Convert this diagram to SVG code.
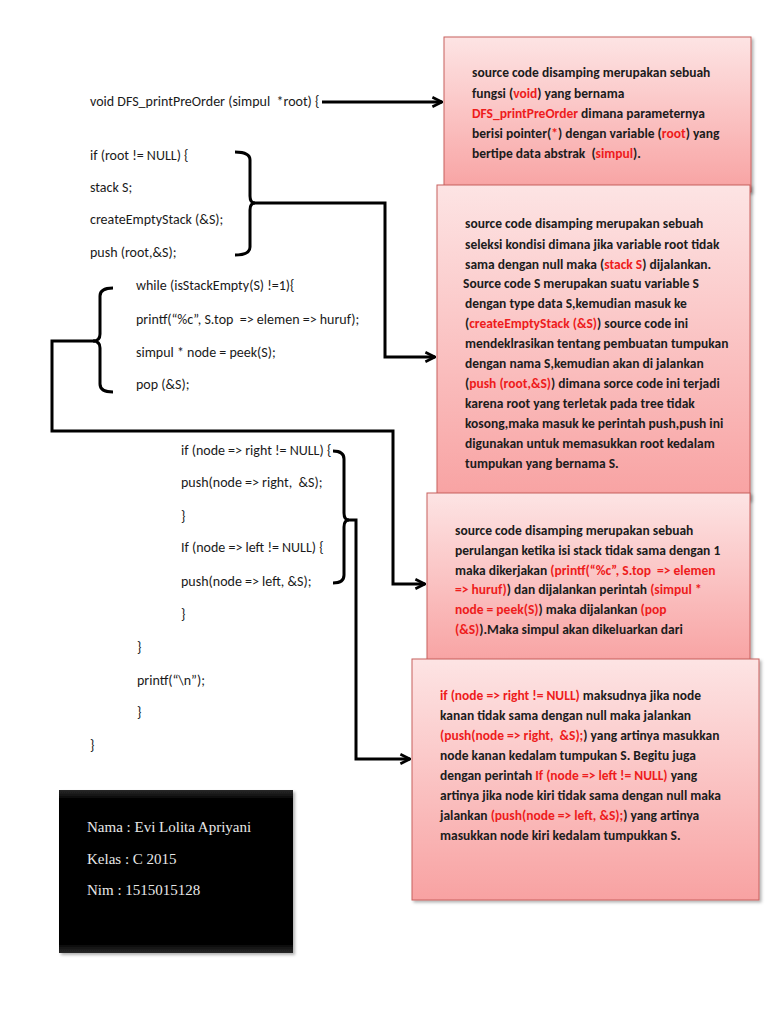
<svg xmlns="http://www.w3.org/2000/svg" width="768" height="1024" viewBox="0 0 768 1024">
<defs>
<linearGradient id="pink" x1="0" y1="0" x2="0" y2="1">
<stop offset="0" stop-color="#fde4e4"/>
<stop offset="1" stop-color="#f8a2a2"/>
</linearGradient>
<linearGradient id="blk" x1="0" y1="0" x2="0" y2="1">
<stop offset="0" stop-color="#2a2a2a"/>
<stop offset="0.06" stop-color="#000"/>
<stop offset="0.94" stop-color="#000"/>
<stop offset="1" stop-color="#2a2a2a"/>
</linearGradient>
<marker id="ah" viewBox="0 0 10 10" refX="9" refY="5" markerWidth="4" markerHeight="4" orient="auto" markerUnits="strokeWidth">
<path d="M1,1 L9,5 L1,9" fill="none" stroke="#000" stroke-width="2.2" stroke-linejoin="miter"/>
</marker>
<filter id="sh" x="-5%" y="-5%" width="112%" height="112%">
<feDropShadow dx="2" dy="2" stdDeviation="1.5" flood-color="#000" flood-opacity="0.3"/>
</filter>
</defs>
<style>
text{white-space:pre}
.code{font-family:Carlito,Lato,"Liberation Sans",sans-serif;font-size:14px;fill:#1a1a1a}
.bt{font-family:Carlito,Lato,"Liberation Sans",sans-serif;font-weight:bold;fill:#1c1c1c;font-size:13.5px}
.r{fill:#ee1c1c}
.box{fill:url(#pink);stroke:#c8605e;stroke-width:1;filter:url(#sh)}
.conn{fill:none;stroke:#000;stroke-width:3;stroke-linejoin:miter}
.id{font-family:"Liberation Serif",serif;font-size:15px;fill:#e8e8e8}
</style>
<rect width="768" height="1024" fill="#fff"/>

<g id="code">
<text class="code" x="90" y="106">void DFS_printPreOrder (simpul  *root) {</text>
<text class="code" x="90" y="160">if (root != NULL) {</text>
<text class="code" x="90" y="192">stack S;</text>
<text class="code" x="90" y="224">createEmptyStack (&amp;S);</text>
<text class="code" x="90" y="257">push (root,&amp;S);</text>
<text class="code" x="136" y="290">while (isStackEmpty(S) !=1){</text>
<text class="code" x="136" y="324">printf(“%c”, S.top  =&gt; elemen =&gt; huruf);</text>
<text class="code" x="136" y="357">simpul * node = peek(S);</text>
<text class="code" x="136" y="389">pop (&amp;S);</text>
<text class="code" x="181" y="455">if (node =&gt; right != NULL) {</text>
<text class="code" x="181" y="487">push(node =&gt; right,  &amp;S);</text>
<text class="code" x="181" y="521">}</text>
<text class="code" x="181" y="552">If (node =&gt; left != NULL) {</text>
<text class="code" x="181" y="586">push(node =&gt; left, &amp;S);</text>
<text class="code" x="181" y="619">}</text>
<text class="code" x="137" y="652">}</text>
<text class="code" x="137" y="685">printf(“\n”);</text>
<text class="code" x="137" y="717">}</text>
<text class="code" x="90" y="750">}</text>
</g>

<g id="connectors">
<path class="conn" d="M322,102 H442" marker-end="url(#ah)"/>
<path class="conn" d="M235,152 Q250,152 250,160 V196 Q250,203 255,203 Q250,203 250,210 V247 Q250,255 235,255"/>
<path class="conn" d="M253,203 H385 V357 H435" marker-end="url(#ah)"/>
<path class="conn" d="M113,288 Q100,288 100,296 V334 Q100,341 93,341 Q100,341 100,348 V384 Q100,392 113,392"/>
<path class="conn" d="M95,341 H52 V431 H393 V584 H425" marker-end="url(#ah)"/>
<path class="conn" d="M333,451 Q344,451 344,459 V513 Q344,520 349,520 Q344,520 344,527 V575 Q344,583 333,583"/>
<path class="conn" d="M346,520 H356 V759 H410" marker-end="url(#ah)"/>
</g>

<g id="box1">
<rect class="box" x="444" y="37" width="307" height="155"/>
<text class="bt" x="472" y="77">source code disamping merupakan sebuah</text>
<text class="bt" x="472" y="98">fungsi (<tspan class="r">void</tspan>) yang bernama</text>
<text class="bt" x="472" y="118"><tspan class="r">DFS_printPreOrder</tspan> dimana parameternya</text>
<text class="bt" x="472" y="138">berisi pointer(<tspan class="r">*</tspan>) dengan variable (<tspan class="r">root</tspan>) yang</text>
<text class="bt" x="472" y="158">bertipe data abstrak  (<tspan class="r">simpul</tspan>).</text>
</g>

<g id="box2">
<rect class="box" x="437" y="185" width="313" height="315"/>
<text class="bt" x="465" y="228">source code disamping merupakan sebuah</text>
<text class="bt" x="465" y="249">seleksi kondisi dimana jika variable root tidak</text>
<text class="bt" x="465" y="269">sama dengan null maka (<tspan class="r">stack S</tspan>) dijalankan.</text>
<text class="bt" x="463" y="288">Source code S merupakan suatu variable S</text>
<text class="bt" x="465" y="308">dengan type data S,kemudian masuk ke</text>
<text class="bt" x="465" y="328">(<tspan class="r">createEmptyStack (&amp;S)</tspan>) source code ini</text>
<text class="bt" x="465" y="348">mendeklrasikan tentang pembuatan tumpukan</text>
<text class="bt" x="465" y="368">dengan nama S,kemudian akan di jalankan</text>
<text class="bt" x="465" y="388">(<tspan class="r">push (root,&amp;S)</tspan>) dimana sorce code ini terjadi</text>
<text class="bt" x="465" y="408">karena root yang terletak pada tree tidak</text>
<text class="bt" x="465" y="428">kosong,maka masuk ke perintah push,push ini</text>
<text class="bt" x="465" y="448">digunakan untuk memasukkan root kedalam</text>
<text class="bt" x="465" y="468">tumpukan yang bernama S.</text>
</g>

<g id="box3">
<rect class="box" x="427" y="493" width="323" height="172"/>
<text class="bt" x="455" y="535">source code disamping merupakan sebuah</text>
<text class="bt" x="455" y="555">perulangan ketika isi stack tidak sama dengan 1</text>
<text class="bt" x="455" y="575">maka dikerjakan <tspan class="r">(printf(“%c”, S.top  =&gt; elemen</tspan></text>
<text class="bt" x="455" y="594"><tspan class="r">=&gt; huruf)</tspan>) dan dijalankan perintah <tspan class="r">(simpul *</tspan></text>
<text class="bt" x="455" y="614"><tspan class="r">node = peek(S)</tspan>) maka dijalankan <tspan class="r">(pop</tspan></text>
<text class="bt" x="455" y="634"><tspan class="r">(&amp;S)</tspan>).Maka simpul akan dikeluarkan dari</text>
</g>

<g id="box4">
<rect class="box" x="412" y="659" width="347" height="241"/>
<text class="bt" x="440" y="700"><tspan class="r">if (node =&gt; right != NULL)</tspan> maksudnya jika node</text>
<text class="bt" x="440" y="720">kanan tidak sama dengan null maka jalankan</text>
<text class="bt" x="440" y="740"><tspan class="r">(push(node =&gt; right,  &amp;S);</tspan>) yang artinya masukkan</text>
<text class="bt" x="440" y="760">node kanan kedalam tumpukan S. Begitu juga</text>
<text class="bt" x="440" y="780">dengan perintah <tspan class="r">If (node =&gt; left != NULL)</tspan> yang</text>
<text class="bt" x="440" y="800">artinya jika node kiri tidak sama dengan null maka</text>
<text class="bt" x="440" y="820">jalankan <tspan class="r">(push(node =&gt; left, &amp;S);</tspan>) yang artinya</text>
<text class="bt" x="440" y="840">masukkan node kiri kedalam tumpukkan S.</text>
</g>

<g id="identity">
<rect x="59" y="790" width="234" height="163" fill="url(#blk)" filter="url(#sh)"/>
<text class="id" x="87" y="832">Nama : Evi Lolita Apriyani</text>
<text class="id" x="87" y="864">Kelas : C 2015</text>
<text class="id" x="87" y="895">Nim : 1515015128</text>
</g>
</svg>
